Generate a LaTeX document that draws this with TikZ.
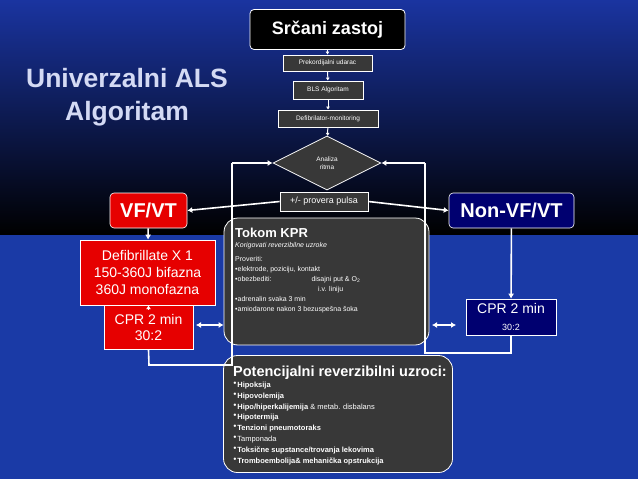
\documentclass[tikz,border=0pt]{standalone}
\usepackage{fontspec}
\setmainfont{Liberation Sans}
\usetikzlibrary{shapes.geometric,arrows.meta}
\definecolor{bgblue}{HTML}{1A3AA6}
\definecolor{topblue}{HTML}{1A34A0}
\definecolor{boxgray}{HTML}{383838}
\definecolor{alsred}{HTML}{E60000}
\definecolor{navy}{HTML}{000070}
\definecolor{lavender}{HTML}{D4DAF4}
\newcommand{\fs}[1]{\fontsize{#1}{1.2\dimexpr #1pt\relax}\selectfont}

\begin{document}
\begin{tikzpicture}[x=1pt,y=-1pt,
  algstep/.style={draw=white,fill=boxgray,text=white,inner sep=0pt,line width=0.8pt},
  bigbox/.style={draw=white,fill=boxgray,rounded corners=14pt,line width=0.8pt,inner sep=0pt},
  redbox/.style={draw=white,fill=alsred,text=white,inner sep=0pt,line width=0.6pt},
  navybox/.style={draw=white,fill=navy,text=white,inner sep=0pt,line width=0.6pt},
  flow/.style={draw=white,line width=1.6pt,-{Latex[length=5pt,width=6pt]}},
  loop/.style={draw=white,line width=1.6pt}]
  %background
  \useasboundingbox (0,0) rectangle (638,479);
  \shade[top color=topblue,bottom color=black] (0,0) rectangle (638,235);
  \fill[bgblue] (0,235) rectangle (638,479);

  %title
  \node[text=lavender,font=\fontsize{26.5}{33}\selectfont\bfseries,align=center] (title) at (127,97) {Univerzalni ALS\\Algoritam};

  %main column
  \node[draw=white,fill=black,text=white,rounded corners=4pt,line width=0.8pt,minimum width=155pt,minimum height=40pt,font=\fs{18}\bfseries] (arrest) at (327.5,29.5) {Srčani zastoj};
  \node[algstep,minimum width=89pt,minimum height=16pt,font=\fs{6.5}] (thump) at (327.5,63) {Prekordijalni udarac};
  \node[algstep,minimum width=70pt,minimum height=18pt,font=\fs{6.5}] (bls) at (328,90) {BLS Algoritam};
  \node[algstep,minimum width=100pt,minimum height=17pt,font=\fs{6.5}] (monitor) at (328,118.5) {Defibrilator-monitoring};
  \node[algstep,diamond,aspect=2,minimum width=108pt,minimum height=54pt,font=\fs{6.5},align=center] (rhythm) at (327,163) {Analiza\\ritma};
  \node[algstep,minimum width=88pt,minimum height=19pt,font=\fs{9}] (pulse) at (324,201.5) {+/- provera pulsa};

  %left branch
  \node[redbox,rounded corners=4pt,minimum width=77pt,minimum height=35pt,font=\fs{20}\bfseries] (vf) at (148.5,210.5) {VF/VT};
  \node[redbox,minimum width=135pt,minimum height=65pt,font=\fs{14},align=center] (defib) at (147.5,272.5) {Defibrillate X 1\\150-360J bifazna\\360J monofazna};
  \node[redbox,minimum width=89pt,minimum height=44pt,font=\fs{14},align=center] (cprl) at (148.5,327.5) {CPR 2 min\\30:2};

  %right branch
  \node[navybox,rounded corners=4pt,minimum width=125pt,minimum height=35pt,font=\fs{20}\bfseries] (nonvf) at (511.5,210.5) {Non-VF/VT};
  \node[navybox,minimum width=90pt,minimum height=36pt,font=\fs{14},align=center] (cprr) at (511,317) {CPR 2 min\\{\fs{9}30:2}};

  %during CPR
  \node[bigbox,minimum width=205pt,minimum height=127pt] (kpr) at (326.5,281.5) {};
  \node[text=white,anchor=north west,align=left,inner sep=0pt,font=\fontsize{7}{10}\selectfont] (kprtext) at (235,228) {%
    {\fontsize{13}{15}\selectfont\bfseries Tokom KPR}\\
    \textit{Korigovati reverzibilne uzroke}\\[4pt]
    Proveriti:\\
    •elektrode, poziciju, kontakt\\
    •obezbediti:\hspace{40pt}disajni put \& O\textsubscript{2}\\
    \hspace{83pt}i.v. liniju\\
    •adrenalin svaka 3 min\\
    •amiodarone nakon 3 bezuspešna šoka};

  %reversible causes
  \node[bigbox,minimum width=229pt,minimum height=117pt] (causes) at (338,414) {};
  \node[text=white,anchor=north west,align=left,inner sep=0pt,font=\fontsize{7.5}{10.8}\selectfont] (causestext) at (233,366) {%
    {\fontsize{14.5}{16}\selectfont\bfseries Potencijalni reverzibilni uzroci:}\\
    $^{\bullet}$\textbf{Hipoksija}\\
    $^{\bullet}$\textbf{Hipovolemija}\\
    $^{\bullet}$\textbf{Hipo/hiperkalijemija} \& metab. disbalans\\
    $^{\bullet}$\textbf{Hipotermija}\\
    $^{\bullet}$\textbf{Tenzioni pneumotoraks}\\
    $^{\bullet}$Tamponada\\
    $^{\bullet}$\textbf{Toksične supstance/trovanja lekovima}\\
    $^{\bullet}$\textbf{Tromboembolija\& mehanička opstrukcija}};

  %loops back to rhythm analysis
  \coordinate (lb) at (149,365);
  \coordinate (lc) at (232,365);
  \coordinate (lt) at (232,163);
  \coordinate (rb) at (511,353);
  \coordinate (rc) at (425,353);
  \coordinate (rt) at (425,163);
  \draw[loop] (cprl.south) -- (lb) -- (lc) -- (lt);
  \draw[flow] (lt) -- (rhythm.west);
  \draw[loop] (cprr.south) -- (rb) -- (rc) -- (rt);
  \draw[flow] (rt) -- (rhythm.east);

  %connectors
  \draw[flow,line width=1pt,-{Latex[length=3pt,width=4pt]}] (arrest) -- (thump);
  \draw[flow,line width=1pt,-{Latex[length=3pt,width=4pt]}] (thump) -- (bls);
  \draw[flow,line width=1pt,-{Latex[length=3pt,width=4pt]}] (bls) -- (monitor);
  \draw[flow,line width=1pt,-{Latex[length=3pt,width=4pt]}] (monitor) -- (rhythm);
  \draw[flow] (pulse.west) -- (vf.east);
  \draw[flow] (pulse.east) -- (nonvf.west);
  \draw[flow] (vf) -- (defib);
  \draw[flow] (nonvf) -- (cprr);
  \coordinate (cprltop) at ([yshift=-4pt]cprl.north);
  \draw[flow,line width=1pt,-{Latex[length=4pt,width=5pt]}] (cprltop) -- (cprl.north);
  \coordinate (dl) at (196,325);
  \coordinate (dr) at (432,325);
  \coordinate (dre) at (456,325);
  \draw[flow,{Latex[length=5pt,width=6pt]}-{Latex[length=5pt,width=6pt]}] (dl) -- (kpr.west |- dl);
  \draw[flow,{Latex[length=5pt,width=6pt]}-{Latex[length=5pt,width=6pt]}] (dr) -- (dre);
\end{tikzpicture}
\end{document}
